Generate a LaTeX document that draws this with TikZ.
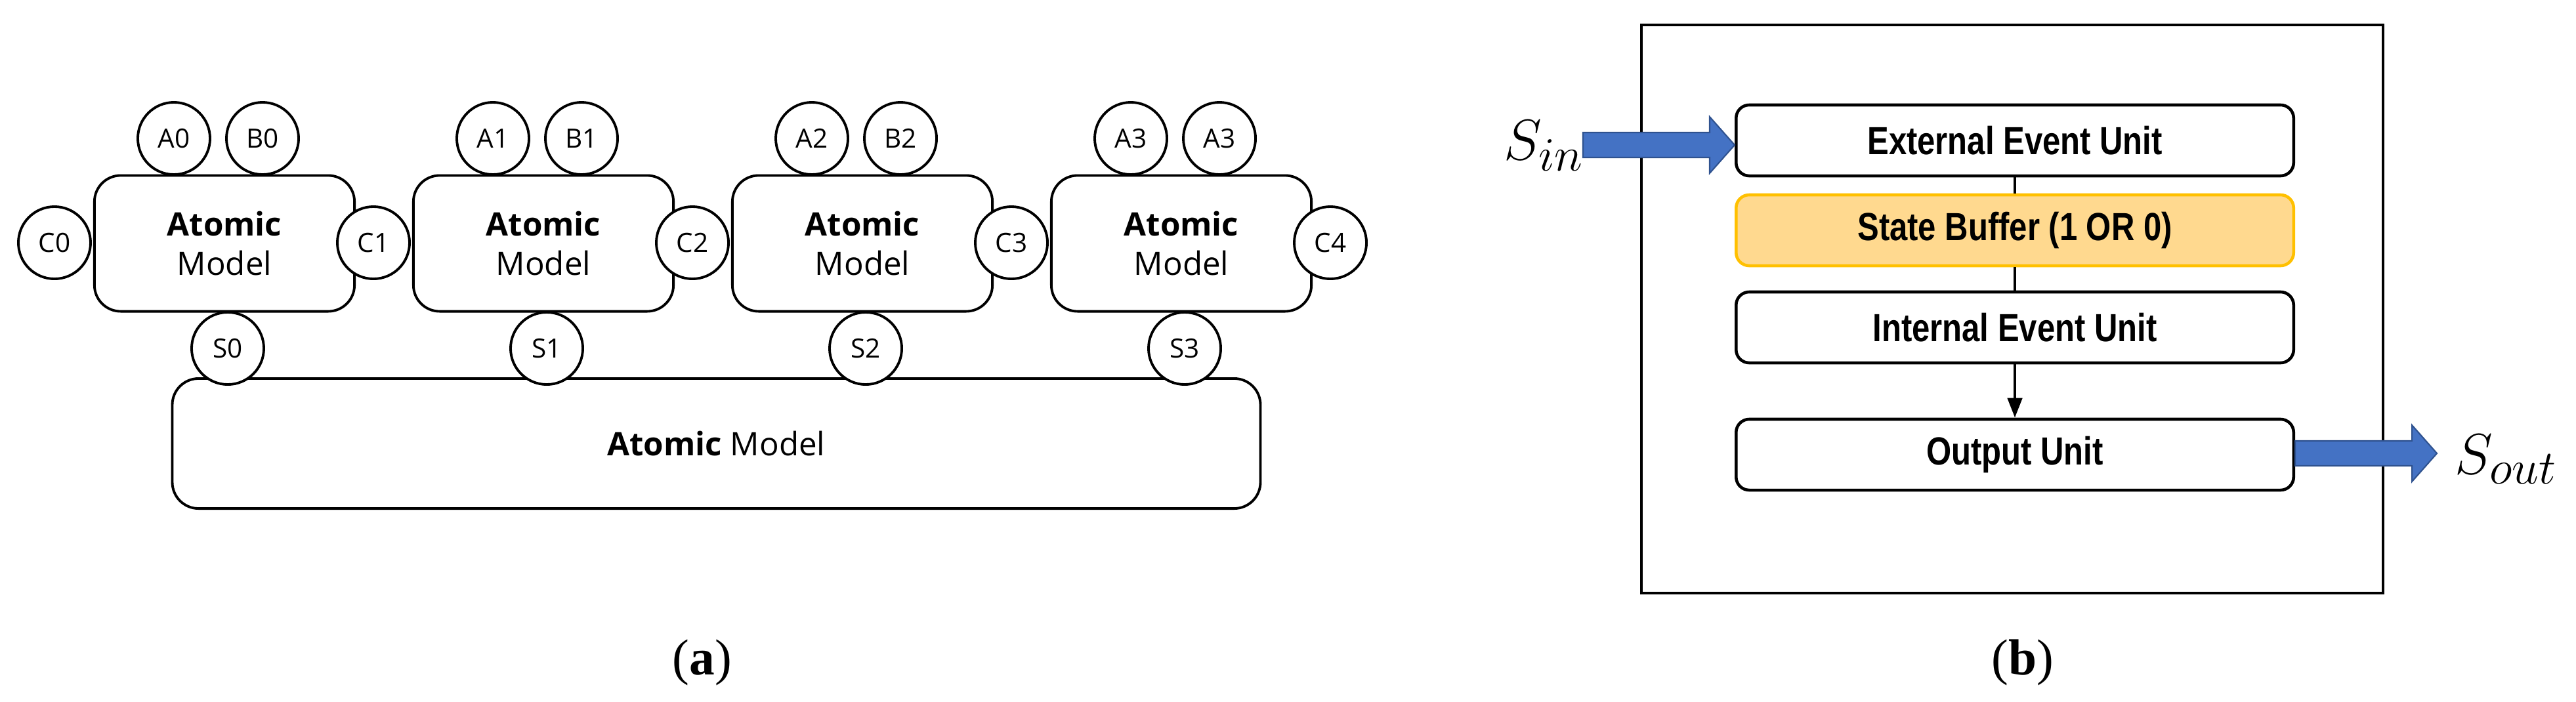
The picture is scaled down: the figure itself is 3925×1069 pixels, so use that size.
\documentclass[tikz,border=0pt]{standalone}
\usepackage{fontspec}
\setmainfont{Liberation Serif}
\newfontfamily\osans{Open Sans}
\newfontfamily\lsans{Liberation Sans}
\usetikzlibrary{arrows.meta}
\definecolor{bufFill}{HTML}{FFD98F}
\definecolor{bufLine}{HTML}{FFC000}
\definecolor{arrBlue}{HTML}{4472C4}
\definecolor{arrLine}{HTML}{2F528F}
\begin{document}
\begin{tikzpicture}[x=0.01cm,y=-0.01cm,
  amb/.style={draw,line width=1.1pt,rounded corners=0.4cm,fill=white,font=\osans\fontsize{14}{17}\selectfont,align=center},
  port/.style={draw,circle,line width=1.1pt,minimum size=1.1cm,inner sep=0pt,fill=white,font=\osans\fontsize{11.5}{13}\selectfont},
  unit/.style={draw,line width=1.3pt,rounded corners=0.2cm,fill=white,minimum width=8.49cm,minimum height=1.08cm,font=\lsans\bfseries\fontsize{17}{20}\selectfont},
  barrow/.style={fill=arrBlue,draw=arrLine,line width=0.6pt}
]
\useasboundingbox (0,0) rectangle (3925,1069);
% big box
\node[amb,minimum width=16.57cm,minimum height=1.98cm] (big) at (1091.5,676) {\textbf{Atomic} Model};
\foreach \i in {0,1,2,3}{
  \node[amb,minimum width=3.96cm,minimum height=2.07cm] (m\i) at ({342+486*\i},371) {\textbf{Atomic}\\Model};
  \node[port] (s\i) at ({347+486*\i},531) {S\i};
}
\node[port] (a0) at (265,211) {A0};
\node[port] (b0) at (400,211) {B0};
\node[port] (a1) at (751,211) {A1};
\node[port] (b1) at (886,211) {B1};
\node[port] (a2) at (1237,211) {A2};
\node[port] (b2) at (1372,211) {B2};
\node[port] (a3) at (1723,211) {A3};
\node[port] (b3) at (1858,211) {A3};
\foreach \i in {0,1,2,3,4}{
  \node[port] (c\i) at ({83+486*\i},370) {C\i};
}
\node[font=\fontsize{22}{26}\selectfont] (capa) at (1070,1010) {(\textbf{a})};
% right panel
\node[draw,line width=1.2pt,minimum width=11.3cm,minimum height=8.66cm,inner sep=0pt] (outer) at (3066,471) {};
\node[unit] (ext) at (3070,214) {\scalebox{0.82}[1]{External Event Unit}};
\node[unit,draw=bufLine,fill=bufFill] (buf) at (3070,351) {\scalebox{0.82}[1]{State Buffer (1 OR 0)}};
\node[unit] (int) at (3070,499) {\scalebox{0.82}[1]{Internal Event Unit}};
\node[unit] (out) at (3070,693) {\scalebox{0.82}[1]{Output Unit}};
\draw[line width=1.3pt] (ext) -- (buf);
\draw[line width=1.3pt] (buf) -- (int);
\draw[line width=1.3pt,-{Triangle[length=0.3cm,width=0.22cm]}] (int) -- (out);
\coordinate (sinTip) at ([yshift=-0.07cm]ext.west);
\coordinate (soutTail) at ([yshift=0.02cm]out.east);
\begin{scope}[shift={(sinTip)}]
\draw[barrow] (-231,-19) -- (-38,-19) -- (-38,-43) -- (0,0) -- (-38,43) -- (-38,19) -- (-231,19) -- cycle;
\end{scope}
\begin{scope}[shift={(soutTail)}]
\draw[barrow] (0,-19) -- (178,-19) -- (178,-43) -- (216,0) -- (178,43) -- (178,19) -- (0,19) -- cycle;
\end{scope}
\node[font=\fontsize{28}{30}\selectfont] (sin) at (2352,222) {$S_{in}$};
\node[font=\fontsize{28}{30}\selectfont] (sout) at (3818,700) {$S_{out}$};
\node[font=\fontsize{22}{26}\selectfont] (capb) at (3082,1010) {(\textbf{b})};
\end{tikzpicture}
\end{document}
